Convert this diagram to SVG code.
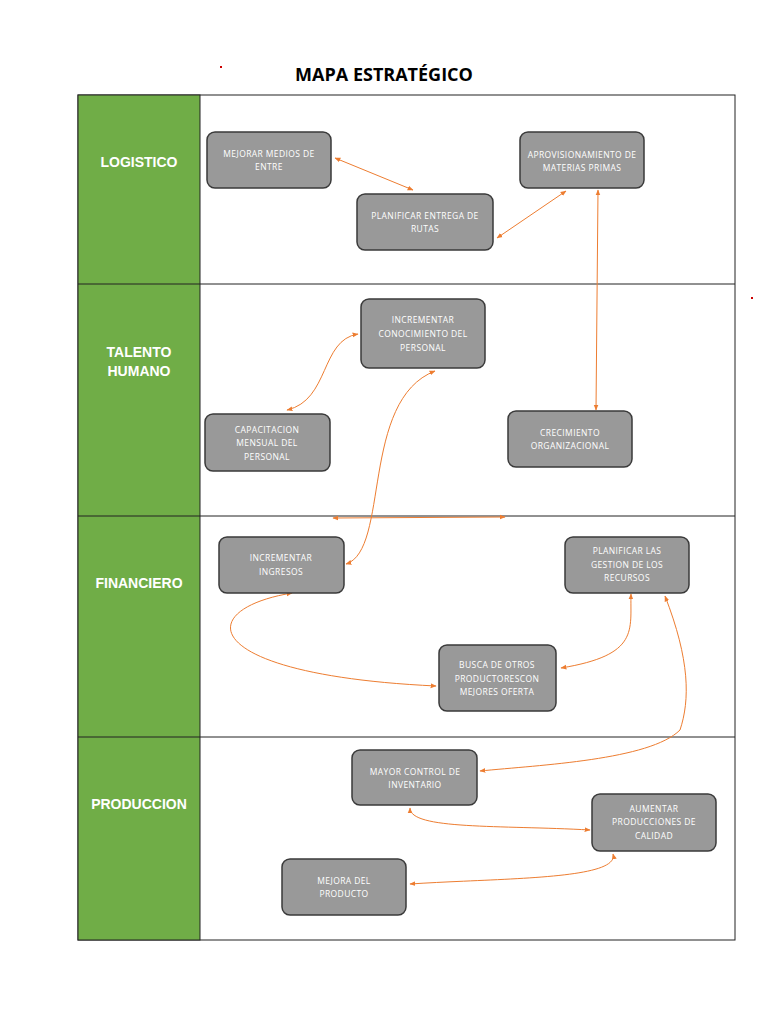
<svg xmlns="http://www.w3.org/2000/svg" width="768" height="1024" viewBox="0 0 768 1024">
<style>
.n rect{fill:#999;stroke:#3a3a3a;stroke-width:1.5}
.n text{fill:#fff;font-family:"Open Sans","Liberation Sans",sans-serif;font-size:8.5px;text-anchor:middle;letter-spacing:0.4px}
.lane text{fill:#fff;font-family:"Liberation Sans",sans-serif;font-size:14px;font-weight:bold;text-anchor:middle}
#conn path{fill:none;stroke:#ED7D31;stroke-width:1;marker-start:url(#a);marker-end:url(#a)}
</style>
<defs><marker id="a" viewBox="0 0 10 10" refX="9" refY="5" markerWidth="6" markerHeight="6" orient="auto-start-reverse"><path d="M0,1 L10,5 L0,9 z" fill="#ED7D31"/></marker></defs>
<rect width="768" height="1024" fill="#fff"/>
<text x="384" y="81" font-family="'Open Sans','Liberation Sans',sans-serif" font-size="18" font-weight="bold" text-anchor="middle">MAPA ESTRATÉGICO</text>
<rect x="220" y="66" width="2" height="2" fill="#c00"/><rect x="370" y="117" width="2" height="2" fill="#c00"/><rect x="751" y="297" width="2" height="2" fill="#c00"/>
<g class="lane">
<rect x="78" y="95" width="657" height="845" fill="#fff" stroke="#222" stroke-width="1"/>
<rect x="78" y="95" width="122" height="845" fill="#70AD47" stroke="#222" stroke-width="1"/>
<g stroke="#222" stroke-width="1"><line x1="78" y1="284" x2="735" y2="284"/><line x1="78" y1="516" x2="735" y2="516"/><line x1="78" y1="737" x2="735" y2="737"/></g>
<text x="139" y="167">LOGISTICO</text>
<text x="139" y="357">TALENTO</text><text x="139" y="376">HUMANO</text>
<text x="139" y="588">FINANCIERO</text>
<text x="139" y="809">PRODUCCION</text>
</g>
<g id="conn">
<path d="M335,158 L413,190"/>
<path d="M497,238 L566,191"/>
<path d="M598,190 L596,410"/>
<path d="M358,334 C320,340 330,400 287,410"/>
<path d="M435,371 C360,400 390,550 346,564"/>
<path d="M333,518 L505,517"/>
<path d="M292,593 C190,610 200,675 436,686"/>
<path d="M561,668 C640,655 630,630 631,594"/>
<path d="M665,596 C690,660 690,700 680,730 C650,760 540,765 480,771"/>
<path d="M410,808 C410,830 500,825 590,830"/>
<path d="M613,854 C620,880 500,878 410,884"/>
</g>
<g id="n1" class="n"><rect x="207" y="132" width="124" height="56" rx="8"/><text x="269" y="157">MEJORAR MEDIOS DE</text><text x="269" y="170">ENTRE</text></g>
<g id="n2" class="n"><rect x="357" y="194" width="136" height="56" rx="8"/><text x="425" y="219">PLANIFICAR ENTREGA DE</text><text x="425" y="232">RUTAS</text></g>
<g id="n3" class="n"><rect x="520" y="132" width="124" height="56" rx="8"/><text x="582" y="158">APROVISIONAMIENTO DE</text><text x="582" y="171">MATERIAS PRIMAS</text></g>
<g id="n4" class="n"><rect x="361" y="299" width="124" height="69" rx="8"/><text x="423" y="323">INCREMENTAR</text><text x="423" y="337">CONOCIMIENTO DEL</text><text x="423" y="351">PERSONAL</text></g>
<g id="n5" class="n"><rect x="205" y="414" width="125" height="57" rx="8"/><text x="267" y="433">CAPACITACION</text><text x="267" y="446">MENSUAL DEL</text><text x="267" y="460">PERSONAL</text></g>
<g id="n6" class="n"><rect x="508" y="411" width="124" height="56" rx="8"/><text x="570" y="436">CRECIMIENTO</text><text x="570" y="449">ORGANIZACIONAL</text></g>
<g id="n7" class="n"><rect x="219" y="537" width="125" height="56" rx="8"/><text x="281" y="561">INCREMENTAR</text><text x="281" y="575">INGRESOS</text></g>
<g id="n8" class="n"><rect x="565" y="537" width="124" height="56" rx="8"/><text x="627" y="554">PLANIFICAR LAS</text><text x="627" y="568">GESTION DE LOS</text><text x="627" y="581">RECURSOS</text></g>
<g id="n9" class="n"><rect x="439" y="645" width="117" height="66" rx="8"/><text x="497" y="668">BUSCA DE OTROS</text><text x="497" y="682">PRODUCTORESCON</text><text x="497" y="695">MEJORES OFERTA</text></g>
<g id="n10" class="n"><rect x="352" y="750" width="125" height="55" rx="8"/><text x="415" y="775">MAYOR CONTROL DE</text><text x="415" y="788">INVENTARIO</text></g>
<g id="n11" class="n"><rect x="592" y="794" width="124" height="57" rx="8"/><text x="654" y="812">AUMENTAR</text><text x="654" y="825">PRODUCCIONES DE</text><text x="654" y="839">CALIDAD</text></g>
<g id="n12" class="n"><rect x="282" y="859" width="124" height="56" rx="8"/><text x="344" y="884">MEJORA DEL</text><text x="344" y="897">PRODUCTO</text></g>
</svg>
